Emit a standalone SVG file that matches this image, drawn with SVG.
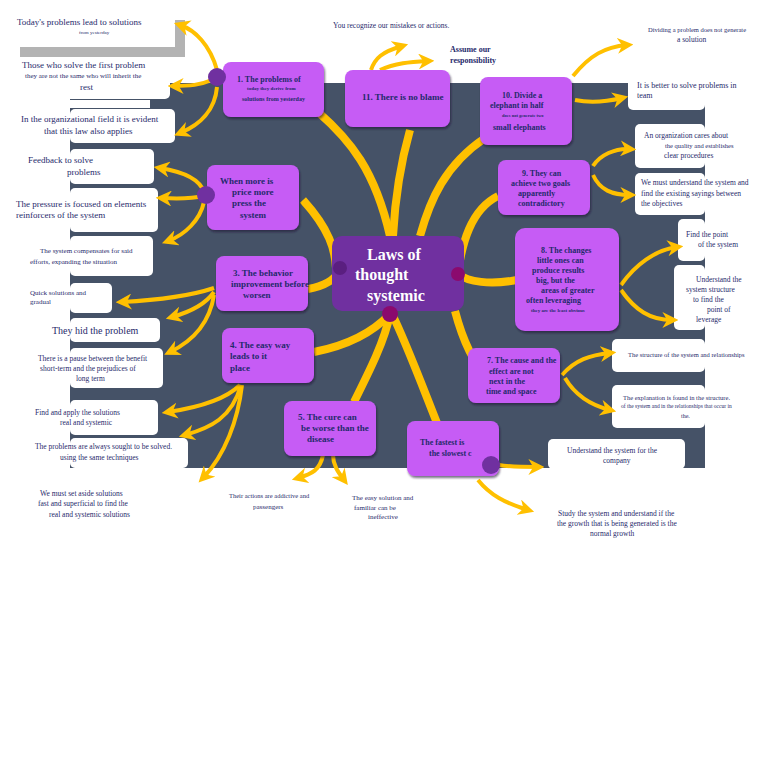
<svg xmlns="http://www.w3.org/2000/svg" width="768" height="762" viewBox="0 0 768 762">
<style>
text{font-family:"Liberation Serif",serif;fill:#1f2a6b}
.b{font-weight:bold}
.node{fill:#c65cf5;stroke:#3a2a50;stroke-width:0}
.wb{fill:#fff}
.trunk{fill:none;stroke:#ffc000;stroke-width:8;stroke-linecap:butt}
.arr{fill:none;stroke:#ffc000;stroke-width:4;marker-end:url(#ah)}
.dot{fill:#7030a0}
</style>
<defs>
<marker id="ah" viewBox="0 0 10 10" refX="6" refY="5" markerWidth="4" markerHeight="4" orient="auto" markerUnits="strokeWidth"><path d="M0,0L10,5L0,10L3,5z" fill="#ffc000"/></marker>
<filter id="sh" x="-10%" y="-10%" width="130%" height="130%"><feDropShadow dx="1" dy="2" stdDeviation="1" flood-color="#1a1030" flood-opacity="0.6"/></filter>
</defs>
<rect width="768" height="762" fill="#fff"/>
<rect x="70" y="83" width="635" height="385" fill="#455267"/>
<path d="M20,47H175V20H185V57H20z" fill="#b3b3b3"/>
<rect x="70" y="100" width="80" height="8" fill="#fff"/>
<g id="whiteboxes">
<rect class="wb" x="20" y="57" width="150" height="42" rx="5"/>
<rect class="wb" x="70" y="109" width="105" height="34" rx="5"/>
<rect class="wb" x="70" y="149" width="84" height="35" rx="5"/>
<rect class="wb" x="70" y="188" width="88" height="44" rx="5"/>
<rect class="wb" x="70" y="236" width="83" height="40" rx="5"/>
<rect class="wb" x="70" y="283" width="42" height="30" rx="5"/>
<rect class="wb" x="70" y="318" width="90" height="24" rx="5"/>
<rect class="wb" x="70" y="348" width="93" height="40" rx="5"/>
<rect class="wb" x="70" y="400" width="88" height="35" rx="5"/>
<rect class="wb" x="70" y="438" width="118" height="30" rx="5"/>
<rect class="wb" x="628" y="77" width="77" height="33" rx="5"/>
<rect class="wb" x="635" y="124" width="70" height="44" rx="5"/>
<rect class="wb" x="635" y="173" width="70" height="42" rx="5"/>
<rect class="wb" x="678" y="219" width="27" height="42" rx="5"/>
<rect class="wb" x="674" y="265" width="31" height="65" rx="5"/>
<rect class="wb" x="612" y="339" width="93" height="33" rx="5"/>
<rect class="wb" x="612" y="385" width="93" height="43" rx="5"/>
<rect class="wb" x="548" y="439" width="137" height="30" rx="5"/>
</g>
<g id="connectors">
<path class="trunk" d="M318,112C350,140 375,170 390,236"/>
<path class="trunk" d="M303,200C330,230 335,250 336,268"/>
<path class="trunk" d="M308,289C325,286 335,280 340,270"/>
<path class="trunk" d="M314,352C350,345 375,330 390,314"/>
<path class="trunk" d="M354,402C370,370 385,340 390,314"/>
<path class="trunk" d="M437,423C420,380 405,340 392,314"/>
<path class="trunk" d="M488,378C470,360 460,330 455,311"/>
<path class="trunk" d="M517,280C490,285 468,282 458,274"/>
<path class="trunk" d="M498,196C470,210 462,245 458,272"/>
<path class="trunk" d="M485,138C445,165 430,200 420,236"/>
<path class="trunk" d="M410,130C400,165 395,200 393,236"/>
<path class="arr" d="M217,70C210,45 195,30 180,25"/>
<path class="arr" d="M212,80C200,85 190,86 174,86"/>
<path class="arr" d="M217,87C215,110 200,125 180,133"/>
<path class="arr" d="M204,192C200,180 185,172 160,168"/>
<path class="arr" d="M204,196C195,198 180,199 162,198"/>
<path class="arr" d="M204,202C200,220 185,235 168,241"/>
<path class="arr" d="M214,288C190,296 160,300 122,302"/>
<path class="arr" d="M214,292C205,305 190,312 172,317"/>
<path class="arr" d="M214,295C210,320 195,340 170,352"/>
<path class="arr" d="M240,385C225,400 195,408 168,412"/>
<path class="arr" d="M241,385C232,418 210,428 185,435"/>
<path class="arr" d="M242,385C238,420 225,455 203,478"/>
<path class="arr" d="M323,455C320,470 312,474 298,478"/>
<path class="arr" d="M333,455C333,465 338,472 344,480"/>
<path class="arr" d="M499,465C510,467 525,467 538,467"/>
<path class="arr" d="M478,480C490,495 505,503 528,510"/>
<path class="arr" d="M562,375C575,360 590,355 610,353"/>
<path class="arr" d="M565,378C575,395 590,405 610,410"/>
<path class="arr" d="M621,285C635,265 655,250 677,247"/>
<path class="arr" d="M621,290C635,310 650,320 672,320"/>
<path class="arr" d="M593,166C600,155 615,148 630,149"/>
<path class="arr" d="M593,175C600,190 612,195 630,195"/>
<path class="arr" d="M575,100C590,103 605,102 622,98"/>
<path class="arr" d="M573,76C590,55 605,47 627,45"/>
<path class="arr" d="M371,70C375,58 382,52 402,46"/>
<path class="arr" d="M380,70C395,63 410,62 428,61"/>
</g>
<g id="center">
<rect x="332" y="236" width="132" height="75" rx="10" fill="#7030a0"/>
<circle cx="340" cy="268" r="7" fill="#5a1f80"/>
<circle cx="458" cy="274" r="7" fill="#8b0a6e"/>
<circle cx="390" cy="314" r="8" fill="#8b0a6e"/>
<text x="367" y="260" font-size="16" class="b" style="fill:#fff">Laws of</text>
<text x="355" y="280" font-size="16" class="b" style="fill:#fff">thought</text>
<text x="367" y="301" font-size="16" class="b" style="fill:#fff">systemic</text>
</g>
<g id="n1"><rect class="node" filter="url(#sh)" x="223" y="62" width="101" height="55" rx="8"/><circle class="dot" cx="217" cy="77" r="9"/>
<text x="237" y="82" font-size="8" class="b">1. The problems of</text><text x="247" y="90" font-size="5" class="b">today they derive from</text><text x="242" y="101" font-size="6" class="b">solutions from yesterday</text></g>
<g id="n2"><rect class="node" filter="url(#sh)" x="207" y="165" width="92" height="65" rx="8"/><circle class="dot" cx="206" cy="195" r="9"/>
<text x="220" y="184" font-size="9" class="b">When more is</text><text x="232" y="195" font-size="9" class="b">price more</text><text x="232" y="206" font-size="9" class="b">press the</text><text x="240" y="218" font-size="9" class="b">system</text></g>
<g id="n3"><rect class="node" filter="url(#sh)" x="216" y="256" width="92" height="55" rx="8"/>
<text x="233" y="276" font-size="9" class="b">3. The behavior</text><text x="231" y="287" font-size="9" class="b">improvement before</text><text x="243" y="298" font-size="9" class="b">worsen</text></g>
<g id="n4"><rect class="node" filter="url(#sh)" x="222" y="328" width="92" height="55" rx="8"/>
<text x="230" y="348" font-size="9" class="b">4. The easy way</text><text x="230" y="359" font-size="9" class="b">leads to it</text><text x="230" y="371" font-size="9" class="b">place</text></g>
<g id="n5"><rect class="node" filter="url(#sh)" x="284" y="401" width="92" height="55" rx="8"/>
<text x="298" y="420" font-size="9" class="b">5. The cure can</text><text x="301" y="431" font-size="9" class="b">be worse than the</text><text x="307" y="442" font-size="9" class="b">disease</text></g>
<g id="n6"><rect class="node" filter="url(#sh)" x="407" y="421" width="92" height="55" rx="8"/><circle class="dot" cx="491" cy="465" r="9"/>
<text x="420" y="445" font-size="8" class="b">The fastest is</text><text x="429" y="456" font-size="8" class="b">the slowest c</text></g>
<g id="n7"><rect class="node" filter="url(#sh)" x="468" y="348" width="92" height="55" rx="8"/>
<text x="487" y="363" font-size="8" class="b">7. The cause and the</text><text x="489" y="374" font-size="8" class="b">effect are not</text><text x="489" y="384" font-size="8" class="b">next in the</text><text x="486" y="394" font-size="8" class="b">time and space</text></g>
<g id="n8"><rect class="node" filter="url(#sh)" x="515" y="228" width="104" height="103" rx="10"/>
<text x="541" y="253" font-size="8" class="b">8. The changes</text><text x="537" y="263" font-size="8" class="b">little ones can</text><text x="532" y="273" font-size="8" class="b">produce results</text><text x="536" y="283" font-size="8" class="b">big, but the</text><text x="541" y="293" font-size="8" class="b">areas of greater</text><text x="526" y="303" font-size="8" class="b">often leveraging</text><text x="531" y="312" font-size="5" class="b">they are the least obvious</text></g>
<g id="n9"><rect class="node" filter="url(#sh)" x="498" y="160" width="92" height="55" rx="8"/>
<text x="522" y="176" font-size="8" class="b">9. They can</text><text x="511" y="186" font-size="8" class="b">achieve two goals</text><text x="518" y="196" font-size="8" class="b">apparently</text><text x="518" y="206" font-size="8" class="b">contradictory</text></g>
<g id="n10"><rect class="node" filter="url(#sh)" x="480" y="77" width="92" height="68" rx="8"/>
<text x="502" y="98" font-size="8" class="b">10. Divide a</text><text x="490" y="108" font-size="8" class="b">elephant in half</text><text x="502" y="117" font-size="4.5" class="b">does not generate two</text><text x="493" y="130" font-size="8" class="b">small elephants</text></g>
<g id="n11"><rect class="node" filter="url(#sh)" x="345" y="70" width="105" height="57" rx="8"/>
<text x="362" y="100" font-size="9" class="b">11. There is no blame</text></g>
<g id="labels" font-size="8">
<text x="17" y="25" font-size="9">Today's problems lead to solutions</text><text x="79" y="34" font-size="5">from yesterday</text>
<text x="22" y="68" font-size="9">Those who solve the first problem</text><text x="25" y="78" font-size="7">they are not the same who will inherit the</text><text x="80" y="90" font-size="9">rest</text>
<text x="21" y="122" font-size="9">In the organizational field it is evident</text><text x="44" y="134" font-size="9">that this law also applies</text>
<text x="28" y="163" font-size="9">Feedback to solve</text><text x="67" y="175" font-size="9">problems</text>
<text x="16" y="207" font-size="9">The pressure is focused on elements</text><text x="16" y="218" font-size="9">reinforcers of the system</text>
<text x="40" y="253" font-size="7">The system compensates for said</text><text x="30" y="264" font-size="7">efforts, expanding the situation</text>
<text x="30" y="295" font-size="7">Quick solutions and</text><text x="30" y="304" font-size="7">gradual</text>
<text x="52" y="334" font-size="10">They hid the problem</text>
<text x="38" y="361" font-size="7.5">There is a pause between the benefit</text><text x="40" y="371" font-size="7.5">short-term and the prejudices of</text><text x="76" y="381" font-size="7.5">long term</text>
<text x="35" y="415" font-size="7.5">Find and apply the solutions</text><text x="60" y="425" font-size="7.5">real and systemic</text>
<text x="35" y="449" font-size="7.5">The problems are always sought to be solved.</text><text x="60" y="460" font-size="7.5">using the same techniques</text>
<text x="40" y="496" font-size="7.5">We must set aside solutions</text><text x="38" y="506" font-size="7.5">fast and superficial to find the</text><text x="49" y="517" font-size="7.5">real and systemic solutions</text>
<text x="229" y="498" font-size="6.5">Their actions are addictive and</text><text x="253" y="509" font-size="7">passengers</text>
<text x="352" y="500" font-size="7">The easy solution and</text><text x="354" y="510" font-size="7">familiar can be</text><text x="368" y="519" font-size="7">ineffective</text>
<text x="333" y="28" font-size="7.5">You recognize our mistakes or actions.</text>
<text x="450" y="52" font-size="8" class="b">Assume our</text><text x="450" y="63" font-size="8" class="b">responsibility</text>
<text x="648" y="32" font-size="6.5">Dividing a problem does not generate</text><text x="677" y="42" font-size="7.5">a solution</text>
<text x="637" y="88" font-size="8">It is better to solve problems in</text><text x="637" y="98" font-size="8">team</text>
<text x="644" y="138" font-size="7.5">An organization cares about</text><text x="665" y="148" font-size="6.5">the quality and establishes</text><text x="664" y="158" font-size="7.5">clear procedures</text>
<text x="641" y="185" font-size="7.5">We must understand the system and</text><text x="641" y="196" font-size="7.5">find the existing sayings between</text><text x="641" y="206" font-size="7.5">the objectives</text>
<text x="686" y="237" font-size="7.5">Find the point</text><text x="698" y="247" font-size="7.5">of the system</text>
<text x="696" y="282" font-size="7.5">Understand the</text><text x="686" y="292" font-size="7.5">system structure</text><text x="693" y="302" font-size="7.5">to find the</text><text x="707" y="312" font-size="7.5">point of</text><text x="696" y="322" font-size="7.5">leverage</text>
<text x="628" y="357" font-size="6.5">The structure of the system and relationships</text>
<text x="623" y="400" font-size="6.5">The explanation is found in the structure.</text><text x="621" y="408" font-size="5.5">of the system and in the relationships that occur in</text><text x="681" y="418" font-size="6">the.</text>
<text x="567" y="453" font-size="7.5">Understand the system for the</text><text x="603" y="463" font-size="7.5">company</text>
<text x="558" y="516" font-size="7.5">Study the system and understand if the</text><text x="557" y="526" font-size="7.5">the growth that is being generated is the</text><text x="590" y="536" font-size="7.5">normal growth</text>
</g>
</svg>
